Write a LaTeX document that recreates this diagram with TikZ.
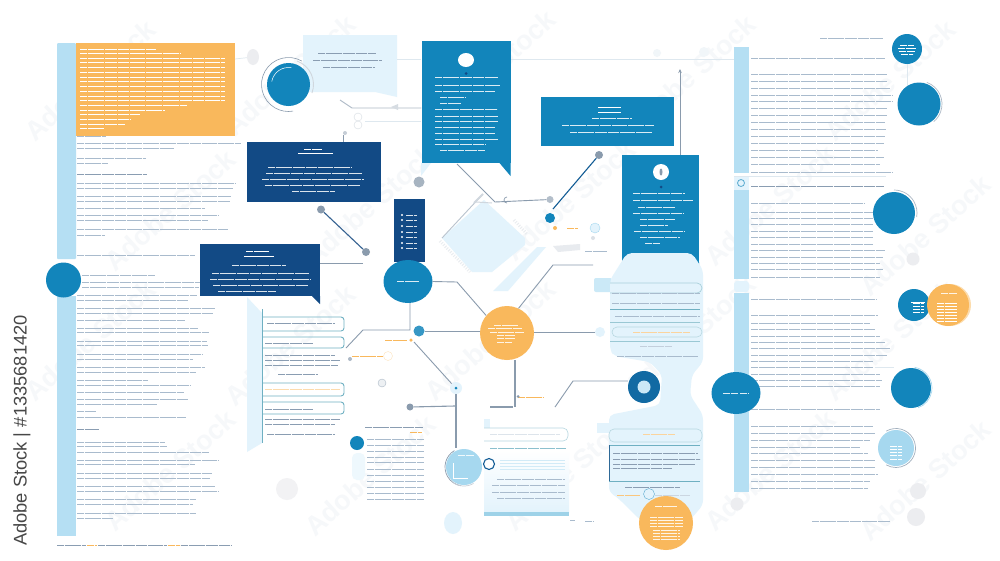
\documentclass[tikz,border=0pt]{standalone}
\usepackage{fontspec}
\setmainfont{Liberation Sans}
\usetikzlibrary{shapes.geometric,arrows.meta}
\definecolor{blu}{HTML}{1285BB}
\definecolor{navy}{HTML}{124A85}
\definecolor{org}{HTML}{F9B85C}
\definecolor{pale}{HTML}{E3F3FC}
\definecolor{barc}{HTML}{B5DFF3}
\definecolor{sky}{HTML}{A6D8EF}
\definecolor{gline}{HTML}{8A9BAD}
\definecolor{ftext}{HTML}{A9BBCD}
\definecolor{dtext}{HTML}{8A9DB2}
\definecolor{teal}{HTML}{6FB0C2}
\definecolor{dotg}{HTML}{ECEDF0}
\definecolor{wm}{HTML}{F6F8FA}
\tikzset{
 disc/.style={circle,inner sep=0pt,minimum size=#1},
 ell/.style 2 args={ellipse,inner sep=0pt,minimum width=#1,minimum height=#2},
 rbox/.style 2 args={rectangle,inner sep=0pt,minimum width=#1,minimum height=#2},
 words/.style={dash pattern=on 7pt off .5pt on 4pt off .5pt on 12pt off .5pt on 3pt off .5pt on 9pt off .5pt},
 gk/.style={line width=.8pt,draw=ftext,words},
 gkd/.style={line width=.9pt,draw=dtext,words},
 wt/.style={line width=1pt,draw=white,words},
 wts/.style={line width=.6pt,draw=white,draw opacity=.85,words},
 ot/.style={line width=.9pt,draw=org,words},
 conn/.style={line width=.9pt,draw=gline},
 connd/.style={line width=1.1pt,draw=#1},
 faint/.style={line width=.7pt,draw=pale!70!gline!60},
 tealine/.style={line width=.9pt,draw=teal},
 wmark/.style={rotate=42,font=\fontsize{27}{27}\selectfont\bfseries},
}
\begin{document}
\begin{tikzpicture}[x=1pt,y=-1pt]
\useasboundingbox (0,0) rectangle (1000,560);
\fill[white] (0,0) rectangle (1000,560);
% watermark below
\foreach \wx/\wy [count=\wi] in {90/80,290/75,490/70,690/75,890/80,170/210,370/205,570/200,770/205,925/235,90/340,290/345,490/340,690/335,890/340,170/470,370/475,570/470,770/470,925/480}
  \node[wmark,text=wm] (wm\wi) at (\wx,\wy) {Adobe Stock};
% vertical stamp
\node[rotate=90,text=black!72,font=\fontsize{18.3}{20}\selectfont] (stamp) at (22,430.5) {Adobe Stock | \#1335681420};

% ---- left column
\fill[barc,rounded corners=1pt] (57,43) rectangle (76,259);
\fill[barc] (57,296) rectangle (76,536);
\node[rbox={159}{93},fill=org] (obox) at (155.5,89.5) {};
\foreach \a/\b in {156/49,180/53.5,225/58,225/62.7,225/67.7,225/72.3,225/77,225/81.7,225/86.3,225/91.3,225/96,225/100.7,187/105.3,165/110,140/114.7,130/119.3,125/124,104/128.3}
  \draw[wt] (80,\b) -- (\a,\b);
\foreach \a/\b/\c in {77/106/136,77/241/143,77/174/148.5,77/146/158,77/108/163.5,77/235/183,77/233/188,77/231/196,77/230/201,77/205/208,77/218/215.5,77/208/220,77/228/229.5,77/105/235,77/195/255.5,82/155/275.5,82/200/282,82/199/287,77/197/295,77/188/300,77/215/308,77/213/313,77/185/320,77/198/328,77/209/332,77/207/341,77/208/345,77/202/354,77/193/359,77/205/367,77/196/372,77/148/380,77/190/385,77/184/392,77/188/399,77/157/404,77/96/411,77/186/417,77/165/442,77/167/446,77/209/452,77/219/460,77/195/464,77/212/473,77/210/478,77/215/486,77/218/491,77/196/499,77/193/504,77/196/513,77/113/518}
  \draw[gk] (\a,\c) -- (\b,\c);
\draw[gkd] (77,174.5) -- (147,174.5);
\draw[gkd] (77,429) -- (99,429);
\draw[gkd] (57,545) -- (86,545);
\draw[ot]  (87,545) -- (97,545);
\draw[gkd] (98,545) -- (167,545);
\draw[ot]  (168,545) -- (180,545);
\draw[gkd] (181,545) -- (231,545);
\node[disc=35,fill=blu] (lcirc) at (63.5,280) {};
\node[disc=22,fill=dotg!70!white] (paleg) at (287,489) {};

% ---- top-left circle and light box
\node[ell={12}{16},fill=dotg] (gdot1) at (253,57) {};
\coordinate (oe) at (235,59);
\draw[faint] (oe) -- (gdot1);
\fill[pale] (303,35) -- (397,35) -- (397,97) -- (375,92) -- (303,92) -- cycle;
\foreach \a/\b/\c in {318/376/53,313/382/60,323/375/67}\draw[line width=.7pt,draw=dtext,words] (\a,\c) -- (\b,\c);
\node[disc=43,fill=blu] (tc) at (288.5,84.5) {};
\draw[line width=.6pt,draw=gline] (288.5,84.5) ++(-60:27) arc (-60:-280:27);
\draw[line width=.9pt,draw=gline!40] (288.5,84.5) ++(-70:25) arc (-70:20:25);
\draw[line width=.5pt,draw=white] (288.5,84.5) ++(-80:17) arc (-80:-170:17);

% ---- top rail
\coordinate (railR) at (735,59);
\node[disc=8,fill=pale!80!gline!30] (r1) at (657,53) {};
\node[disc=10,fill=pale!80!gline!30] (r2) at (704,52) {};
\draw[faint] (397,59) -- (421,59);
\draw[faint] (510,59) -- (railR);

% ---- navy box 1
\node[rbox={134}{60},fill=navy] (nb1) at (314,172) {};
\draw[wt] (304,149) -- (322,149);
\draw[line width=.4pt,draw=white] (298,153) -- (333,153);
\foreach \a/\b/\c in {268/352/167,266/362/173,262/364/179,265/360/185,292/335/191}\draw[wts] (\a,\c) -- (\b,\c);

% ---- navy box 2
\node[rbox={120}{52},fill=navy] (nb2) at (260,270) {};
\fill[navy] (nb2.south east) -- ++(0,8) -- ++(-8,-8) -- cycle;
\draw[wt] (246,251) -- (269,251);
\draw[line width=.4pt,draw=white] (244,256) -- (274,256);
\foreach \a/\b/\c in {232/286/265,212/309/273,210/311/279,213/308/285,218/276/291}\draw[wts] (\a,\c) -- (\b,\c);

% ---- connectors around navy boxes
\node[disc=8,fill=gline] (d1) at (321,209.5) {};
\node[disc=8,fill=gline] (d2) at (366,252) {};
\draw[connd=navy!70!gline] (d1) -- (d2);
\coordinate (n2e) at (363,263);
\draw[conn] (nb2.east |- n2e) -- (n2e);
\node[disc=8,draw=gline!35,fill=white] (s1) at (358,117) {};
\node[disc=8,draw=gline!35,fill=white] (s2) at (358,125) {};
\node[disc=4,fill=gline!50] (s3) at (345,133) {};
\draw[conn] (343,135) -- (343,142);

% ---- centre pale shapes
\fill[pale] (442,238) -- (484,200) -- (525,238) -- (525,245) -- (492,272) -- (472,272) -- cycle;
\fill[pale] (537,247) -- (546,247) -- (508,291) -- (493,291) -- cycle;
\coordinate (dl) at (442,238);
\coordinate (dt) at (482,195);
\draw[conn,gline!60] (dl) -- (dt);
\draw[line width=2pt,draw=gline!40] (474,203) -- (483,194);
\draw[line width=1pt,draw=gline!40] (476,202) -- (492,203);
\draw[line width=3pt,draw=gline!18,dash pattern=on 1pt off 1.5pt] (514,220) -- (527,234);
\draw[line width=3pt,draw=gline!18,dash pattern=on 1pt off 1.5pt] (440,241) -- (470,272);

% ---- centre blue callout
\node[rbox={89}{122},fill=blu] (cb) at (466,102) {};
\fill[blu] (cb.south east) -- ++(0,13) -- ++(-11,-13) -- cycle;
\fill[pale] (421,163) -- (431,163) -- (421,176) -- cycle;
\node[ell={16}{14},fill=white] (cbw) at (466,60) {};
\node[disc=3,fill=navy] (cbd) at (466,73.5) {};
\foreach \a/\b/\c in {435/498/77,435/500/85.7,435/495/91,440/465/97,440/461/103,435/497/109,435/498/116,435/498/121,435/495/127,435/495/133,435/498/139,435/485/144,440/485/150}\draw[wts] (\a,\c) -- (\b,\c);
\node[disc=11,fill=gline!75] (d3) at (419,182) {};
\coordinate (tb) at (340,100);
\coordinate (tbb) at (352,108);
\draw[conn,gline!70] (tb) -- (tbb) -- (cb.west |- tbb);
\fill[gline!35] (391,107) -- (398,104) -- (398,110) -- cycle;
\coordinate (s2r) at (365,121);
\draw[faint] (s2r) -- (cb.west |- s2r);

% ---- right blue box
\node[rbox={133}{49},fill=blu] (rb) at (607.5,121.5) {};
\draw[line width=.4pt,draw=white] (598,107) -- (621,107);
\draw[line width=.4pt,draw=white] (598,112) -- (621,112);
\foreach \a/\b/\c in {592/632/118,562/654/125,570/652/132}\draw[wts] (\a,\c) -- (\b,\c);

% ---- tall navy list
\node[rbox={31}{63},fill=navy] (nl) at (409.5,230.5) {};
\foreach \c in {215,220,226,232,237,243,248}{
  \fill[white] (402,\c) circle (1.2);
  \draw[wts] (406,\c) -- (417,\c);
}

% ---- connectors centre
\coordinate (cbb) at (457,164);
\coordinate (elb) at (495,202);
\node[disc=7,fill=gline!65] (d4) at (550,199.5) {};
\draw[conn] (cbb) -- (elb) -- (d4);
\draw[line width=.7pt,draw=gline] (507,197) arc (-90:-270:3);
\node[disc=8,fill=gline] (d5) at (599,155) {};
\node[disc=10,fill=blu] (sb) at (550,218) {};
\draw[connd=navy!70!blu] (d5) -- (553,209);
\node[disc=4,fill=org] (od) at (555,228) {};
\draw[ot] (567,228) -- (578,228);
\node[disc=10,draw=sky,fill=pale] (pr) at (595,228) {};
\node[disc=4,fill=gline!30] (pr2) at (593,238) {};
\fill[gline!20] (553,246) -- (580,244) -- (580,250) -- (558,252) -- cycle;
\draw[gk] (585,251) -- (607,251);

% ---- right blue callout and bottle
\node[rbox={77}{110},fill=blu] (rc) at (660.5,210) {};
\fill[blu] (622,262) -- (622,266) -- (628,258) -- cycle;
\fill[blu] (699,262) -- (699,270) -- (690,258) -- cycle;
\node[disc=16,fill=white] (rcw) at (661,172) {};
\node[ell={3}{7},fill=gline] (rci) at (661,172) {};
\node[disc=3,fill=navy] (rcd) at (661,187) {};
\foreach \a/\b/\c in {633/685/193,633/693/200,638/675/207,633/683/213,640/675/219,640/668/225,634/685/231,640/680/237,645/660/243}\draw[wts] (\a,\c) -- (\b,\c);
\coordinate (arrb) at (680,69);
\draw[conn,-{Stealth[length=4pt,width=3.5pt]}] (rc.north -| arrb) -- (arrb);
\fill[barc!70!white,rounded corners=2pt] (594,278) rectangle (612,292);
\fill[pale,rounded corners=5pt] (627,253) -- (692,253) -- (703,270) -- (703,345) -- (703,362) -- (692,375) -- (690,395) -- (703,415) -- (703,505) -- (690,520) -- (640,520) -- (618,498) -- (609,492) -- (609,415) -- (660,405) -- (662,375) -- (650,362) -- (614,356) -- (610,350) -- (610,280) -- cycle;
\fill[pale] (597,423) rectangle (609,433);
\draw[line width=.7pt,draw=teal!60,rounded corners=5pt] (610,283) -- (702,283) -- (702,293) -- (610,293);
\draw[gk] (612,293.5) -- (700,293.5);
\draw[gk] (612,303) -- (700,303);
\draw[tealine] (610,309) -- (700,309);
\draw[gk] (615,316) -- (700,316);
\draw[tealine,teal!70] (610,322) -- (700,322);
\draw[line width=.6pt,draw=teal!50,rounded corners=5pt] (612,327) rectangle (702,337);
\draw[line width=.9pt,draw=org!60,words] (633,332) -- (690,332);
\draw[tealine,teal!70] (610,341) -- (700,341);
\draw[gk,ftext!70] (640,346) -- (672,346);
\draw[gk] (617,356) -- (698,356);
\draw[line width=.6pt,draw=teal!50,rounded corners=5pt] (609,429) rectangle (702,442);
\draw[line width=.9pt,draw=org!60,words] (643,434) -- (675,434);
\draw[tealine] (609,445) -- (700,445);
\draw[line width=1.1pt,draw=navy!70!teal] (609.5,445) -- (609.5,482);
\foreach \a/\b/\c in {613/698/453,613/700/459,613/695/464,613/672/468}\draw[gkd] (\a,\c) -- (\b,\c);
\draw[tealine] (609,481.7) -- (700,481.7);
\draw[gkd] (625,487) -- (680,487);
\draw[ot,org!80] (617,495) -- (640,495);
\draw[gk,ftext!60] (655,495) -- (690,495);

% ---- bottom orange circle
\node[disc=54,fill=org] (ob) at (666,523) {};
\draw[wts] (655,506) -- (677,506);
\foreach \c in {517,520,523,526}\draw[wts] (650,\c) -- (683,\c);
\foreach \c in {530,533,536,539}\draw[wts] (653,\c) -- (680,\c);
\node[disc=11,fill=pale,draw=blu!70] (obi) at (649,494) {};

% ---- central circles
\node[ell={49}{43},fill=blu] (bc) at (408,281.5) {};
\draw[wts] (397,281) -- (419,281);
\node[disc=54,fill=org] (oc) at (507,333) {};
\foreach \a/\b/\c in {494/518/325,488/522/328,490/524/332,497/515/335,497/515/338,497/512/342}\draw[wts] (\a,\c) -- (\b,\c);
\coordinate (b1) at (457,282);
\draw[conn] (bc.east) -- (b1) -- (oc.140);
\coordinate (u1) at (553,265);
\coordinate (u2) at (593,265);
\draw[conn] (oc.65) -- (u1) -- (u2);
\coordinate (v1) at (410,330);
\coordinate (v2) at (363,330);
\coordinate (v3) at (346,348);
\draw[conn] (bc.south -| v1) -- (v1) -- (v2) -- (v3);
\node[disc=11,fill=blu!85!white] (gr) at (419,331) {};
\draw[conn] (gr) -- (oc.west |- gr);
\node[disc=10,fill=pale] (rp) at (600,332) {};
\draw[conn] (oc.east |- rp) -- (rp.west);
\node[disc=12,fill=pale] (sm) at (456,388) {};
\node[disc=3,fill=blu] (smd) at (456,388) {};
\coordinate (dg) at (414,342);
\draw[conn] (dg) -- (sm.135);
\draw[ot] (385,340) -- (407,340);
\node[disc=3.5,fill=org] (od2) at (411,340) {};
\draw[ot] (352,356) -- (383,356);
\node[disc=9,draw=org!40,fill=white] (od3) at (388,356) {};
\node[disc=4,fill=gline!70] (gd5) at (350,359) {};
\node[disc=8,draw=gline!70,fill=gline!15] (gd6) at (382,383) {};
\coordinate (vv2) at (456,448);
\draw[connd=gline] (sm.south) -- (vv2);
\node[disc=7,fill=gline] (gd7) at (410,407) {};
\coordinate (vv3) at (455,406);
\draw[connd=gline] (gd7) -- (vv3);
\coordinate (w1) at (515,407);
\draw[connd=gline] (oc.south -| w1) -- (w1);
\draw[line width=1.5pt,draw=gline] (490,407) -- (513,407);
\draw[ot] (518,397) -- (543,397);
\node[disc=3,fill=gline] (gd8) at (518,396.5) {};

% ---- dark circle with connector
\node[disc=32,fill=navy!45!blu] (dc) at (644,387) {};
\node[disc=13,fill=pale!60!sky] (dci) at (644,387) {};
\coordinate (k1) at (573,381);
\coordinate (k2) at (555,407);
\draw[conn] (dc.west |- k1) -- (k1) -- (k2);

% ---- lower text block and pale shapes
\node[disc=14,fill=blu] (sc) at (357,443) {};
\fill[pale!60!white,rounded corners=5pt] (352,453) rectangle (365,480);
\draw[gkd] (365,427) -- (423,427);
\draw[ot] (410,432) -- (422,432);
\foreach \c in {439,445,451,457,462,469,475,481,487,493,499}\draw[gk] (367,\c) -- (424,\c);
\node[disc=36,fill=sky] (sk) at (464,467) {};
\draw[line width=.7pt,draw=gline] (464,467) ++(-120:19) arc (-120:-260:19);
\draw[line width=.7pt,draw=gline!50] (464,467) ++(60:19) arc (60:130:19);
\draw[line width=.6pt,draw=white] (453,463) -- (453,478) -- (468,478);
\draw[wts] (458,455) -- (474,455);
\node[ell={18}{22},fill=pale] (pe) at (453,523) {};

% ---- lower card
\fill[top color=white,bottom color=pale] (484,450) rectangle (569,512);
\node[rbox={85}{4.5},fill=sky!85!teal] (cardb) at (526.5,514) {};
\fill[pale] (484,419) rectangle (490,428);
\draw[line width=.6pt,draw=teal!50,rounded corners=5pt] (484,428) -- (568,428) -- (568,441) -- (484,441);
\draw[gk,ftext!40] (490,434) -- (560,434);
\draw[gk,teal!80] (490,448) -- (566,448);
\foreach \c in {460,463,466,469}\draw[line width=.9pt,draw=sky!50] (500,\c) -- (565,\c);
\foreach \a/\c in {497/479,492/485,492/492,497/498}\draw[gk] (\a,\c) -- (565,\c);
\node[disc=11,draw=navy!70!blu,line width=1.1pt,fill=white] (ring) at (489,464) {};
\draw[gk] (570,520) -- (575,520);
\draw[gk] (585,521) -- (593,521);

% ---- teal panel
\fill[pale] (247,297) -- (262,313) -- (262,443) -- (247,452) -- cycle;
\draw[line width=1pt,draw=teal] (262,309) -- (262,443);
\draw[tealine,rounded corners=3pt] (262,317) -- (344,317) -- (344,331) -- (262,331);
\draw[tealine,rounded corners=3pt] (262,337) -- (344,337) -- (344,348) -- (262,348);
\draw[tealine,rounded corners=3pt] (262,383) -- (344,383) -- (344,396) -- (262,396);
\draw[tealine,rounded corners=3pt] (262,402) -- (344,402) -- (344,414) -- (262,414);
\foreach \a/\b/\c in {267/335/323,265/313/343,265/335/355,265/340/360,265/338/365,278/318/374,265/313/409,265/340/419,265/335/424,267/335/434}\draw[gkd] (\a,\c) -- (\b,\c);
\draw[line width=.9pt,draw=org!50,words] (265,389) -- (340,389);

% ---- right column
\fill[barc] (734,47) rectangle (749,173);
\fill[pale] (734,176) rectangle (749,190);
\node[disc=7,draw=blu!70,line width=.8pt] (ri1) at (741,183) {};
\fill[barc] (734,190) rectangle (749,279);
\fill[pale,rounded corners=3pt] (734,281) rectangle (749,292);
\fill[barc] (734,293) rectangle (749,492);
\draw[faint] (734,176) -- (886,176);
\draw[gk] (820,38) -- (883,38);
\foreach \c/\e in {58/885,74/887,81/887,88/890,95/892,101/892,108/887,115/887,122/885,129/886,136/885,143/884,150/878,157/884,164/880,172/892,203/865,212/873,218/873,224/873,231/873,237/873,244/873,250/885,257/883,263/880,269/883,277/880,299/877,315/878,323/870,329/875,336/880,342/885,348/890,355/887,361/873,367/873,374/880,380/882,386/880,409/880,426/873,433/875,440/870,447/860,453/868,460/875,467/875,474/878,481/870,488/868}
  \draw[gk] (751,\c) -- (\e,\c);
\draw[gkd] (751,186) -- (884,186);
\draw[gk] (812,521) -- (890,521);
\draw[faint] (875,367) -- (894,367);

\node[disc=30,fill=blu] (rc1) at (907,49) {};
\foreach \a/\b/\c in {900/914/45,898/916/48,899/915/51,901/913/54}\draw[line width=.4pt,draw=white,words] (\a,\c) -- (\b,\c);
\coordinate (rc12) at (907,90);
\draw[faint] (rc1.south) -- (rc12);
\node[disc=43,fill=blu] (rc2) at (919,104) {};
\draw[line width=.7pt,draw=gline!70] (919,104) ++(-70:23) arc (-70:50:23);
\node[disc=42,fill=blu] (rc3) at (894,213) {};
\draw[line width=.7pt,draw=gline!70] (894,213) ++(-90:23) arc (-90:10:23);
\node[disc=32,fill=blu] (rc4) at (914,305) {};
\foreach \c in {303,306,309,312}\draw[line width=.5pt,draw=white,words] (913,\c) -- (924,\c);
\draw[line width=.7pt,draw=white] (911,302) -- (925,302);
\fill[org!50!white] (950,305) circle (21);
\node[disc=42,fill=org] (rc5) at (948,305) {};
\draw[wts] (941,293) -- (957,293);
\foreach \c in {303,306,309,312,315,318,321}\draw[line width=.5pt,draw=white,words] (937,\c) -- (957,\c);
\draw[line width=.7pt,draw=sky] (911,388) ++(-80:21) arc (-80:70:21);
\node[disc=40,fill=blu] (rc6) at (911,388) {};
\node[ell={49}{42},fill=blu] (rc7) at (736,393) {};
\draw[wts] (723,393.5) -- (738,393.5);
\draw[wts] (740,393.5) -- (748,393.5);
\node[disc=36,fill=sky] (rc8) at (896,448) {};
\draw[line width=.7pt,draw=gline!80] (896,448) ++(-120:19.5) arc (-120:120:19.5);
\foreach \c in {446,449,452,455,459}\draw[line width=.5pt,draw=white,words] (890,\c) -- (902,\c);
\node[disc=13,fill=dotg] (gd1) at (913,259) {};
\node[disc=16,fill=dotg] (gd2) at (918,491) {};
\node[disc=18,fill=dotg] (gd3) at (916,517) {};
\node[disc=13,fill=dotg] (gd4) at (737,504) {};
\end{tikzpicture}
\end{document}
